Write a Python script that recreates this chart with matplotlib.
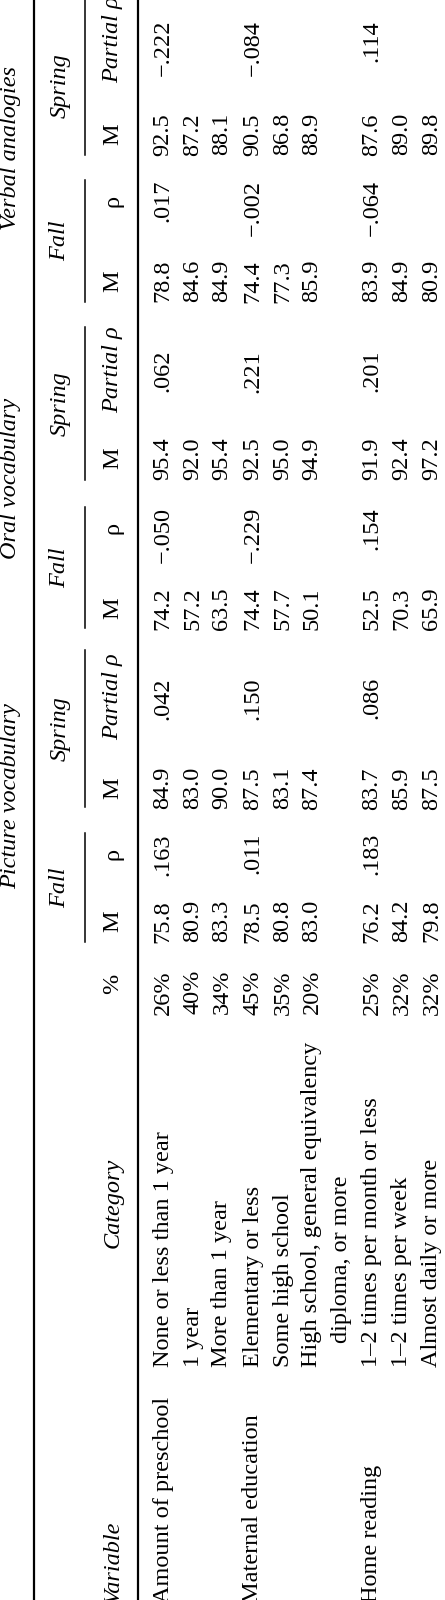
import matplotlib.pyplot as plt

plt.rcParams['font.family'] = ['Liberation Serif', 'DejaVu Serif']

variables = ["Amount of preschool", "Maternal education", "Home reading"]
categories = ["None or less than 1 year", "1 year", "More than 1 year",
              "Elementary or less", "Some high school",
              "High school, general equivalency",
              "1\u20132 times per month or less", "1\u20132 times per week", "Almost daily or more"]
pct = ["26%", "40%", "34%", "45%", "35%", "20%", "25%", "32%", "32%"]

pic_fall_m = ["75.8", "80.9", "83.3", "78.5", "80.8", "83.0", "76.2", "84.2", "79.8"]
pic_fall_r = [".163", ".011", ".183"]
pic_spr_m = ["84.9", "83.0", "90.0", "87.5", "83.1", "87.4", "83.7", "85.9", "87.5"]
pic_spr_p = [".042", ".150", ".086"]
oral_fall_m = ["74.2", "57.2", "63.5", "74.4", "57.7", "50.1", "52.5", "70.3", "65.9"]
oral_fall_r = ["\u2212.050", "\u2212.229", ".154"]
oral_spr_m = ["95.4", "92.0", "95.4", "92.5", "95.0", "94.9", "91.9", "92.4", "97.2"]
oral_spr_p = [".062", ".221", ".201"]
verb_fall_m = ["78.8", "84.6", "84.9", "74.4", "77.3", "85.9", "83.9", "84.9", "80.9"]
verb_fall_r = [".017", "\u2212.002", "\u2212.064"]
verb_spr_m = ["92.5", "87.2", "88.1", "90.5", "86.8", "88.9", "87.6", "89.0", "89.8"]
verb_spr_p = ["\u2212.222", "\u2212.084", ".114"]

fig = plt.figure(figsize=(4.45, 16), dpi=100)
ax = fig.add_axes([0, 0, 1, 1])
ax.set_xlim(0, 445)
ax.set_ylim(1600, 0)
ax.axis('off')

FS = 17.5
rows = [163, 193, 222, 253, 283, 312, 372, 402, 432]
group_rows = [rows[0], rows[3], rows[6]]


def put(x, y, s, align='center', style='normal'):
    # text is rotated: "bottom" is where reading starts, "top" where it ends
    ax.text(x, y, s, rotation=90, fontsize=FS, ha='center', va=align,
            style=style, color='black')


# rules
ax.axvline(34, color='black', lw=1.6)
ax.axvline(138, color='black', lw=1.6)
spans = [(833, 942), (650, 807), (507, 628), (327, 480), (180, 302), (0, 155)]
for y0, y1 in spans:
    ax.plot([85, 85], [y0, y1], color='black', lw=1.1)

# spanner headers
put(11, 796, "Picture vocabulary", style='italic')
put(11, 478, "Oral vocabulary", style='italic')
put(11, 148, "Verbal analogies", style='italic')
for (y0, y1), lab in zip(spans, ["Fall", "Spring", "Fall", "Spring", "Fall", "Spring"]):
    put(60, (y0 + y1) / 2 + (8 if y0 == 0 else 0), lab, style='italic')

# column headers
put(113, 1603, "Variable", align='bottom', style='italic')
put(113, 1203, "Category", style='italic')
put(113, 984, "%")
cols = [(900, pic_fall_m, None), (833, None, pic_fall_r), (767, pic_spr_m, None),
        (677, None, pic_spr_p), (587, oral_fall_m, None), (507, None, oral_fall_r),
        (437, oral_spr_m, None), (350, None, oral_spr_p), (260, verb_fall_m, None),
        (180, None, verb_fall_r), (113, verb_spr_m, None), (20, None, verb_spr_p)]
heads = ["M", "\u03c1", "M", "Partial \u03c1"] * 3
for (top, full, grp), h in zip(cols, heads):
    if h.startswith("Partial"):
        put(113, top + 20, h, style='italic')
    else:
        put(113, top + 21, h)
    if full is not None:
        for x, v in zip(rows, full):
            put(x, top, v, align='top')
    else:
        for x, v in zip(group_rows, grp):
            put(x, top, v, align='top')

# body
for x, v in zip(group_rows, variables):
    put(x, 1603, v, align='bottom')
for x, c in zip(rows, categories):
    put(x, 1367, c, align='bottom')
put(342, 1343, "diploma, or more", align='bottom')
for x, p in zip(rows, pct):
    put(x, 970, p, align='top')

fig.savefig("out.png", dpi=100)
